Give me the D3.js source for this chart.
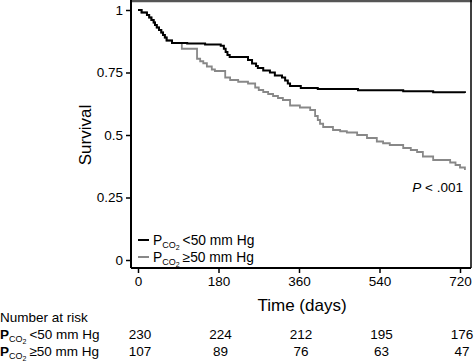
<!DOCTYPE html>
<html>
<head>
<meta charset="utf-8">
<script src="https://cdn.jsdelivr.net/npm/d3@7"></script>
<style>
  body { margin: 0; background: #fff; }
  text { font-family: Arial, "Liberation Sans", sans-serif; fill: #000; }
</style>
</head>
<body>
<svg id="chart" width="474" height="364"></svg>
<script>
// step times (days) and survival for each group
const lowTimes  = [0, 8, 20, 25, 30, 35, 38, 42, 47, 52, 56, 60, 64, 76, 110, 150, 185, 192, 196, 200, 205, 246, 255, 264, 268, 280, 295, 306, 322, 329, 335, 340, 364, 402, 492, 593, 660, 731];
const lowSurv   = [1, 0.99, 0.98, 0.97, 0.96, 0.95, 0.94, 0.93, 0.92, 0.91, 0.90, 0.89, 0.878, 0.868, 0.866, 0.862, 0.857, 0.845, 0.832, 0.82, 0.812, 0.8, 0.786, 0.776, 0.768, 0.758, 0.75, 0.738, 0.73, 0.718, 0.706, 0.696, 0.688, 0.684, 0.679, 0.675, 0.671, 0.668];

const highTimes = [0, 8, 20, 25, 30, 35, 38, 42, 47, 52, 56, 60, 64, 76, 98, 132, 139, 146, 154, 165, 172, 195, 206, 224, 246, 262, 270, 280, 291, 302, 313, 324, 340, 362, 385, 396, 402, 407, 414, 436, 452, 467, 490, 512, 534, 548, 563, 593, 610, 624, 637, 660, 698, 710, 720, 731];
const highSurv  = [1, 0.99, 0.98, 0.97, 0.96, 0.95, 0.94, 0.93, 0.92, 0.91, 0.90, 0.89, 0.878, 0.868, 0.845, 0.805, 0.795, 0.787, 0.774, 0.762, 0.756, 0.73, 0.72, 0.713, 0.706, 0.69, 0.68, 0.672, 0.664, 0.656, 0.648, 0.64, 0.618, 0.61, 0.60, 0.576, 0.56, 0.545, 0.532, 0.52, 0.515, 0.51, 0.50, 0.488, 0.474, 0.467, 0.46, 0.448, 0.44, 0.432, 0.414, 0.40, 0.39, 0.38, 0.37, 0.36];

const xTicks = [0, 180, 360, 540, 720];
const yTicks = [0, 0.25, 0.5, 0.75, 1];
const yTickLabels = ["0", "0.25", "0.5", "0.75", "1"];

const groupNames = ["<50 mm Hg", "\u226550 mm Hg"];
const groupColors = ["#000000", "#888888"];
const atRiskLow  = [230, 224, 212, 195, 176];
const atRiskHigh = [107, 89, 76, 63, 47];

const svg = d3.select("#chart");

const x = d3.scaleLinear().domain([0, 720]).range([138, 460]);
const y = d3.scaleLinear().domain([0, 1]).range([260, 10]);

// frame
svg.append("line").attr("x1", 131).attr("x2", 472).attr("y1", 1).attr("y2", 1)
  .attr("stroke", "#555").attr("stroke-width", 2.5);
svg.append("line").attr("x1", 471).attr("x2", 471).attr("y1", 0).attr("y2", 268)
  .attr("stroke", "#000").attr("stroke-width", 1.5);

// axes
const yAxis = svg.append("g").attr("transform", "translate(131,0)")
  .call(d3.axisLeft(y).tickValues(yTicks).tickFormat((d, i) => yTickLabels[i]).tickSize(5).tickPadding(3));
yAxis.select(".domain").attr("d", "M0,0V268").attr("stroke-width", 2);

const xAxis = svg.append("g").attr("transform", "translate(0,268)")
  .call(d3.axisBottom(x).tickValues(xTicks).tickSize(5).tickPadding(3));
xAxis.select(".domain").attr("d", "M131,0H471").attr("stroke-width", 2);

svg.selectAll(".tick line").attr("stroke-width", 1.5);
svg.selectAll(".tick text").style("font-size", "13.5px").attr("font-family", "Arial, 'Liberation Sans', sans-serif");

// axis titles
svg.append("text").attr("transform", "translate(91,135) rotate(-90)")
  .attr("text-anchor", "middle").style("font-size", "17px").text("Survival");
svg.append("text").attr("x", 302).attr("y", 311)
  .attr("text-anchor", "middle").style("font-size", "17px").text("Time (days)");

// curves
const line = d3.line().x(d => x(d[0])).y(d => y(d[1])).curve(d3.curveStepAfter);
const highData = highTimes.map((t, i) => [t, highSurv[i]]);
const lowData = lowTimes.map((t, i) => [t, lowSurv[i]]);
svg.append("path").datum(highData).attr("d", line)
  .attr("fill", "none").attr("stroke", groupColors[1]).attr("stroke-width", 1.8);
svg.append("path").datum(lowData).attr("d", line)
  .attr("fill", "none").attr("stroke", groupColors[0]).attr("stroke-width", 2);

// p value
const p = svg.append("text").attr("x", 463).attr("y", 192).attr("text-anchor", "end").style("font-size", "13.5px");
p.append("tspan").attr("font-style", "italic").text("P");
p.append("tspan").text(" < .001");

// label with subscript CO2
function pco2(sel, label, bold) {
  sel.append("tspan").attr("font-weight", bold ? "bold" : "normal").text("P");
  sel.append("tspan").attr("dy", 3).style("font-size", "9px").text("CO");
  sel.append("tspan").attr("dy", 2).style("font-size", "7px").text("2");
  sel.append("tspan").attr("dy", -5).attr("dx", 3).text(label);
}

// legend
groupNames.forEach((name, i) => {
  const ly = 240 + i * 17;
  svg.append("line").attr("x1", 138).attr("x2", 149).attr("y1", ly).attr("y2", ly)
    .attr("stroke", groupColors[i]).attr("stroke-width", 2);
  const t = svg.append("text").attr("x", 153).attr("y", ly + 5).style("font-size", "13.8px");
  pco2(t, name, false);
});

// number at risk
svg.append("text").attr("x", 0).attr("y", 322).style("font-size", "13.5px").text("Number at risk");
[atRiskLow, atRiskHigh].forEach((vals, i) => {
  const ry = 339 + i * 17;
  const t = svg.append("text").attr("x", 0).attr("y", ry).style("font-size", "13.5px");
  pco2(t, groupNames[i], true);
  svg.selectAll(null).data(vals).enter().append("text")
    .attr("x", (d, j) => x(xTicks[j]) + 2)
    .attr("y", ry)
    .attr("text-anchor", "middle")
    .style("font-size", "13.5px")
    .text(d => d);
});
</script>
</body>
</html>
